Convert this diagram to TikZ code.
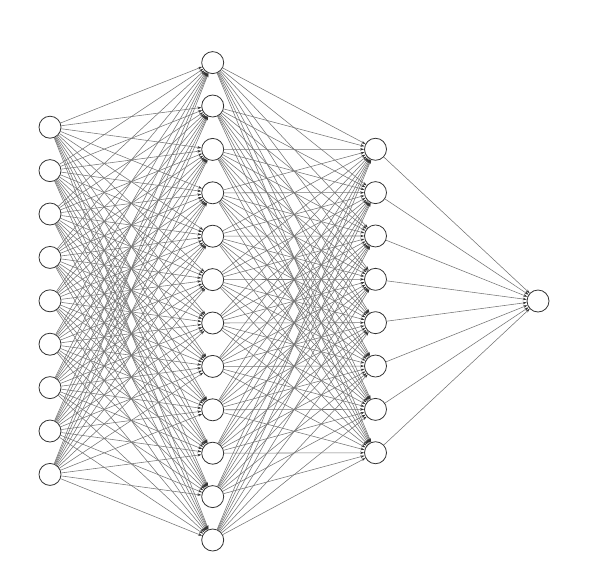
\documentclass[tikz,border=0pt]{standalone}
\usetikzlibrary{arrows.meta}
\begin{document}
\begin{tikzpicture}[x=1pt,y=-1pt,
  neuron/.style={circle,draw=black!80,line width=0.8pt,fill=white,minimum size=22pt,inner sep=0pt},
  conn/.style={draw=black!55,line width=0.55pt,-{Stealth[length=4pt,width=2.6pt,black!80]}}]
\useasboundingbox (0,0) rectangle (610,574);
% layer 1: 9 nodes
\foreach \i in {1,...,9}
  \node[neuron] (a\i) at (50, {300.8+(\i-5)*43.4}) {};
% layer 2: 12 nodes
\foreach \i in {1,...,12}
  \node[neuron] (b\i) at (212.7, {301.3+(\i-6.5)*43.4}) {};
% layer 3: 8 nodes
\foreach \i in {1,...,8}
  \node[neuron] (c\i) at (375.5, {301+(\i-4.5)*43.35}) {};
% output
\node[neuron] (d1) at (538, 301) {};
% connections
\foreach \i in {1,...,9}
  \foreach \j in {1,...,12}
    \draw[conn] (a\i) -- (b\j);
\foreach \i in {1,...,12}
  \foreach \j in {1,...,8}
    \draw[conn] (b\i) -- (c\j);
\foreach \i in {1,...,8}
  \draw[conn] (c\i) -- (d1);
\end{tikzpicture}
\end{document}
